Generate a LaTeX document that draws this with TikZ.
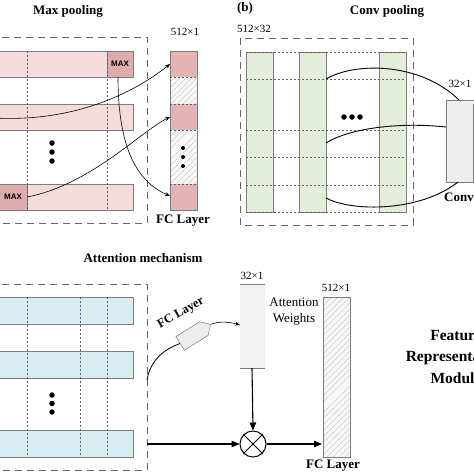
\documentclass[tikz,border=0pt]{standalone}
\usepackage{fontspec}
\setmainfont{Liberation Serif}
\newfontfamily\sansf{Liberation Sans}
\usetikzlibrary{patterns.meta,shapes.symbols,arrows.meta}
\definecolor{pinkc}{RGB}{244,220,220}
\definecolor{maxc}{RGB}{222,172,172}
\definecolor{fcpink}{RGB}{226,180,180}
\definecolor{greenc}{RGB}{228,236,218}
\definecolor{bluec}{RGB}{217,236,243}
\definecolor{edgec}{RGB}{125,125,125}
\tikzset{
  outerbox/.style={draw=gray!80!black, dash pattern=on 7pt off 5pt, line width=0.9pt},
  bar/.style={draw=edgec, line width=0.5pt},
  gridl/.style={draw=gray!75!black, dash pattern=on 2pt off 2pt, line width=0.45pt},
  bigdot/.style={circle, fill=black, inner sep=0pt, minimum size=5.5pt},
  smalldot/.style={circle, fill=black, inner sep=0pt, minimum size=4pt},
  titletxt/.style={font=\fontsize{13}{15}\selectfont\bfseries, inner sep=0pt},
  dimtxt/.style={font=\fontsize{11}{13}\selectfont, inner sep=0pt},
  maxtxt/.style={font=\sansf\bfseries\fontsize{8}{9}\selectfont, inner sep=0pt},
  hatch/.style={pattern={Lines[angle=45,distance=4pt,line width=0.4pt]}, pattern color=gray!55},
  thinarrow/.style={line width=0.6pt, -{Stealth[length=5pt,width=4pt]}},
  thickarrow/.style={line width=1.1pt, -{Triangle[length=8pt,width=6.5pt]}},
  curveline/.style={line width=0.9pt}
}
\begin{document}
\begin{tikzpicture}[x=1pt,y=-1pt]
\useasboundingbox (0,0) rectangle (474,474);
\clip (0,0) rectangle (474,474);
\fill[white] (0,0) rectangle (474,474);

% ================= Max pooling =================
\node[titletxt] (tmax) at (68,11) {Max pooling};
\draw[outerbox] (-10,37) -- (147,37) -- (147,223) -- (-10,223);
\foreach \y in {51,104,184} {\draw[bar, fill=pinkc] (-5,\y) rectangle (133,\y+26);}
\draw[bar, fill=maxc] (107,51) rectangle (133,77);
\node[maxtxt] (max1) at (120,64) {MAX};
\draw[bar, fill=maxc] (-5,184) rectangle (27,210);
\node[maxtxt] (max2) at (13,197) {MAX};
\draw[gridl] (27,51) -- (27,210);
\draw[gridl] (107,51) -- (107,210);
\node[bigdot] (d1) at (52,143) {};
\node[bigdot] (d2) at (52,152) {};
\node[bigdot] (d3) at (52,161) {};
% FC column
\node[dimtxt] (dimfc1) at (185,32) {512×1};
\fill[fcpink] (170,51) rectangle (197,77);
\fill[fcpink] (170,104) rectangle (197,130);
\fill[fcpink] (170,184) rectangle (197,210);
\fill[gray!6] (170,77) rectangle (197,104);
\fill[gray!6] (170,130) rectangle (197,184);
\path[hatch] (170,77) rectangle (197,104);
\path[hatch] (170,130) rectangle (197,184);
\draw[bar] (170,51) rectangle (197,210);
\foreach \y in {77,104,130,184} {\draw[gridl] (170,\y) -- (197,\y);}
\node[smalldot] (e1) at (183,148) {};
\node[smalldot] (e2) at (183,157) {};
\node[smalldot] (e3) at (183,166) {};
\node[titletxt] (fcl1) at (183,221) {FC Layer};
\coordinate (fcA) at (170,64);
\coordinate (fcB) at (170,117);
\coordinate (fcC) at (170,196);
\coordinate (srcL) at (-5,118);
\coordinate (max1b) at (118,77);
\coordinate (max2r) at (27,197);
\draw[thinarrow] (srcL) .. controls (70,122) and (130,96) .. (fcA);
\draw[thinarrow] (max1b) .. controls (118,150) and (138,182) .. (fcC);
\draw[thinarrow] (max2r) .. controls (90,185) and (140,132) .. (fcB);

% ================= Conv pooling =================
\node[titletxt] (lb) at (245,8) {(b)};
\node[titletxt] (tconv) at (387,11) {Conv pooling};
\node[dimtxt] (dim32) at (254,29) {512×32};
\draw[outerbox] (240,38) rectangle (413,225);
\foreach \x in {246,299,379} {\draw[bar, fill=greenc] (\x,52) rectangle (\x+27,212);}
\foreach \y in {52,79,130,157,185,212} {\draw[gridl] (246,\y) -- (406,\y);}
\node[bigdot] (c1) at (344,117) {};
\node[bigdot] (c2) at (352,117) {};
\node[bigdot] (c3) at (360,117) {};
\fill[gray!13] (446,100) rectangle (490,182);
\draw[bar] (490,100) -- (446,100) -- (446,182) -- (490,182);
\draw[bar] (473,104) -- (473,182);
\node[dimtxt] (dim321) at (460,84) {32×1};
\node[titletxt, anchor=west] (convl) at (444,197) {Conv};
\coordinate (ca) at (326,79);
\coordinate (cb) at (326,143);
\coordinate (cc) at (326,198);
\coordinate (ta) at (459,100);
\coordinate (tb) at (446,127);
\coordinate (tc) at (458,182);
\draw[curveline] (ca) .. controls (355,62) and (420,62) .. (ta);
\draw[curveline] (cb) .. controls (350,128) and (400,122) .. (tb);
\draw[curveline] (cc) .. controls (352,212) and (420,212) .. (tc);

% ================= Attention =================
\node[titletxt] (tatt) at (143,258) {Attention mechanism};
\draw[outerbox] (-10,284) -- (147,284) -- (147,470) -- (-10,470);
\foreach \y in {297,351,430} {\draw[bar, fill=bluec] (-5,\y) rectangle (133,\y+27);}
\foreach \x in {27,80,107} {\draw[gridl] (\x,297) -- (\x,457);}
\node[bigdot] (f1) at (52,395) {};
\node[bigdot] (f2) at (52,403.5) {};
\node[bigdot] (f3) at (52,412) {};
% FC tag
\node[signal, signal to=east, draw=edgec, fill=gray!15, minimum width=36pt, minimum height=16pt, inner sep=0pt, rotate=32, line width=0.5pt] (tag) at (192,336) {};
\node[titletxt, font=\fontsize{12.5}{14}\selectfont\bfseries, rotate=30] (tagl) at (181,313) {FC Layer};
% attention weights box
\fill[gray!10] (240,284) rectangle (265,368);
\draw[bar] (240,284) -- (265,284);
\draw[bar] (240,368) -- (265,368);
\coordinate (aw) at (240,325);
\coordinate (awb) at (252,368);
\node[dimtxt] (dimaw) at (252,276) {32×1};
\node[dimtxt, align=center, font=\fontsize{13}{16}\selectfont] (awl) at (294,312) {Attention\\Weights};
% multiply
\node[circle, draw, line width=1pt, minimum size=26pt, inner sep=0pt] (mul) at (253,444) {};
\draw[line width=1pt] (mul.north east) -- (mul.south west);
\draw[line width=1pt] (mul.north west) -- (mul.south east);
% FC output column
\fill[gray!6] (323,297) rectangle (350,457);
\path[hatch] (323,297) rectangle (350,457);
\draw[bar] (323,297) rectangle (350,457);
\node[dimtxt] (dimfc2) at (336,288) {512×1};
\node[titletxt] (fcl2) at (333,466) {FC Layer};
\coordinate (fcin) at (322,444);
\coordinate (boxr) at (147,444);
\coordinate (boxc) at (147,380);
% connectors
\draw[line width=0.8pt] (boxc) .. controls (150,362) and (162,350) .. (tag.west);
\draw[thinarrow] (tag.east) .. controls (220,321) and (230,322) .. (aw);
\draw[thickarrow] (boxr) -- (mul.west);
\draw[thickarrow] (awb) -- (mul.north);
\draw[thickarrow] (mul.east) -- (fcin);

% ================= Right label =================
\node[align=center, font=\fontsize{15.5}{21.5}\selectfont\bfseries, inner sep=0pt] (frm) at (456,357) {Feature\\Representation\\Module};
\end{tikzpicture}
\end{document}
